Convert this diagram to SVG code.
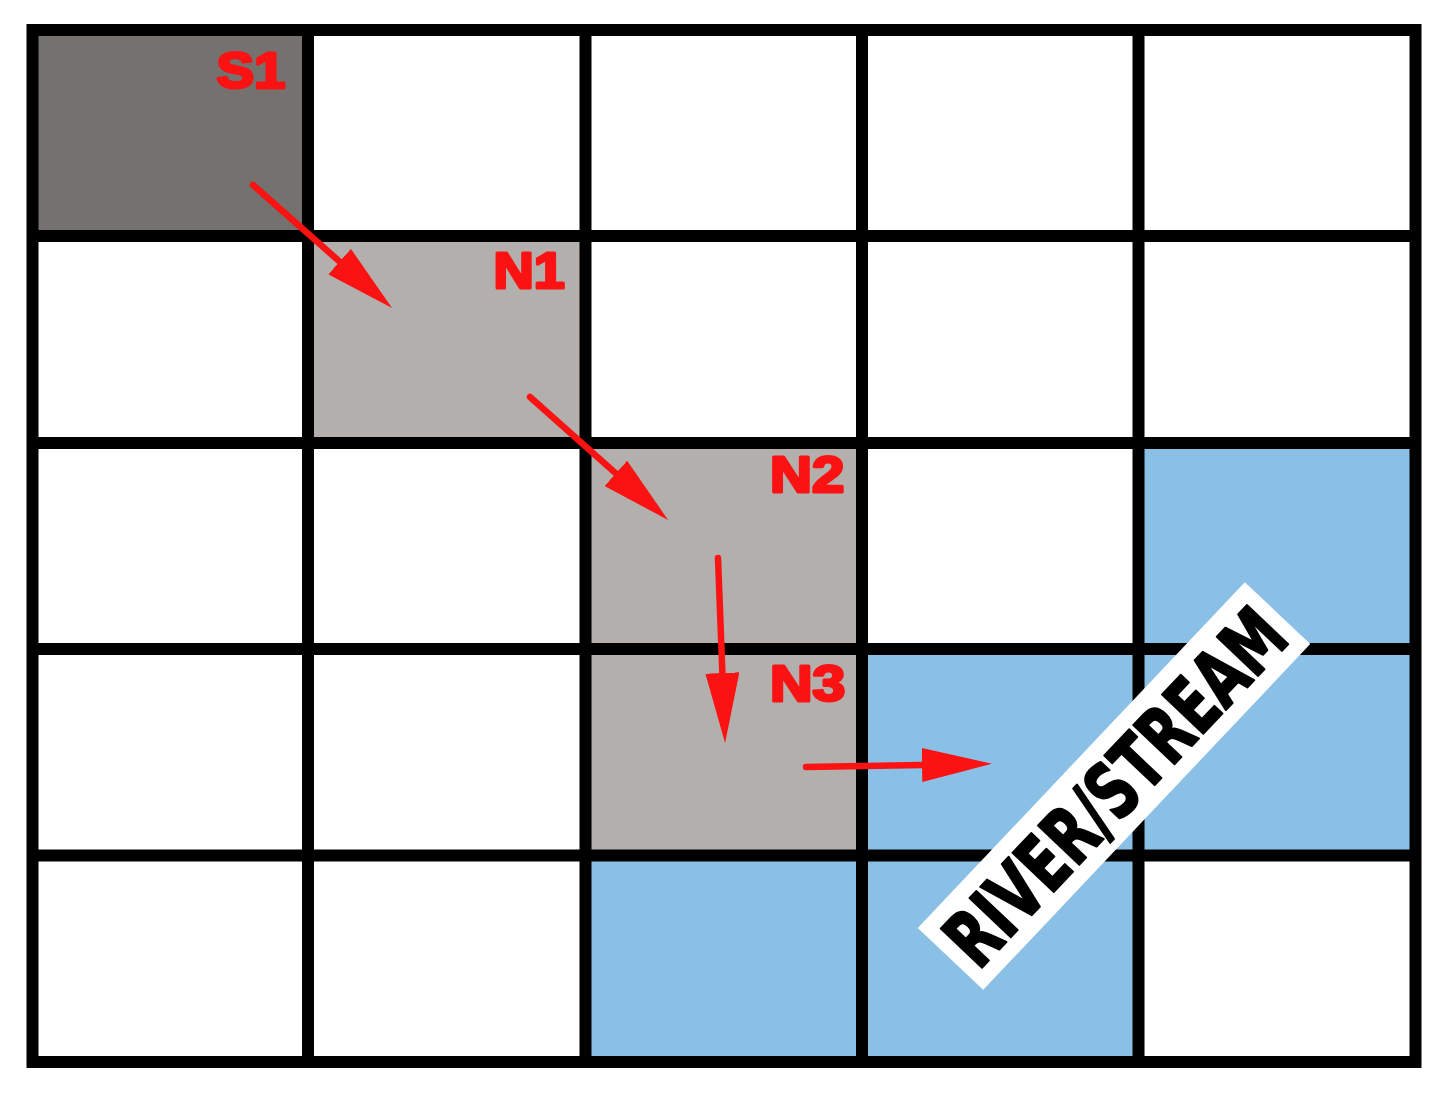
<svg xmlns="http://www.w3.org/2000/svg" width="1455" height="1101" viewBox="0 0 1455 1101">
<style>
.dark{fill:#75716f}
.light{fill:#b3afad}
.water{fill:#8bc0e6}
.grid{fill:none;stroke:#000;stroke-width:12}
.lbl{font-family:"Liberation Sans",Arial,sans-serif;font-weight:bold;font-size:50px;fill:#fb1212;stroke:#fb1212;stroke-width:3;stroke-linejoin:round}
.flow{fill:none;stroke:#fb1212;stroke-width:6.5;stroke-linecap:round}
.river{font-family:"DejaVu Sans","Liberation Sans",Arial,sans-serif;font-weight:bold;font-stretch:condensed;font-size:78px;fill:#000;stroke:#000;stroke-width:2;stroke-linejoin:round}
</style>
<defs>
<marker id="head" viewBox="0 0 70 34" refX="0" refY="17" markerWidth="70" markerHeight="34" markerUnits="userSpaceOnUse" orient="auto">
<path d="M0,0 L70,17 L0,34 Z" fill="#fb1212"/>
</marker>
</defs>
<rect width="1455" height="1101" fill="#fff"/>
<g id="cell-S1">
<rect class="dark" x="32.5" y="30" width="275.5" height="206"/>
</g>
<g id="cell-N1">
<rect class="light" x="308" y="236" width="277.5" height="207"/>
</g>
<g id="cell-N2">
<rect class="light" x="585.5" y="443" width="276.5" height="206"/>
</g>
<g id="cell-N3">
<rect class="light" x="585.5" y="649" width="276.5" height="206.5"/>
</g>
<g id="river-cells">
<rect class="water" x="1138.5" y="443" width="277" height="206"/>
<rect class="water" x="862" y="649" width="276.5" height="206.5"/>
<rect class="water" x="1138.5" y="649" width="277" height="206.5"/>
<rect class="water" x="585.5" y="855.5" width="276.5" height="206.5"/>
<rect class="water" x="862" y="855.5" width="276.5" height="206.5"/>
</g>
<g id="grid">
<path class="grid" d="M308,30 V1062 M585.5,30 V1062 M862,30 V1062 M1138.5,30 V1062 M32.5,236 H1415.5 M32.5,443 H1415.5 M32.5,649 H1415.5 M32.5,855.5 H1415.5"/>
<rect class="grid" x="32.5" y="30" width="1383" height="1032"/>
</g>
<g id="labels">
<text class="lbl" x="216.5" y="87.5" textLength="69" lengthAdjust="spacingAndGlyphs">S1</text>
<text class="lbl" x="493.5" y="288" textLength="71.3" lengthAdjust="spacingAndGlyphs">N1</text>
<text class="lbl" x="770" y="492" textLength="74.2" lengthAdjust="spacingAndGlyphs">N2</text>
<text class="lbl" x="770" y="701" textLength="75.3" lengthAdjust="spacingAndGlyphs">N3</text>
</g>
<g id="connectors">
<path class="flow" d="M253,185 L339.6,261.6" marker-end="url(#head)"/>
<path class="flow" d="M530,397 L615.8,473.4" marker-end="url(#head)"/>
<path class="flow" d="M718,558 L722.4,673" marker-end="url(#head)"/>
<path class="flow" d="M806,767 L922,764.9" marker-end="url(#head)"/>
</g>
<g id="river-label" transform="translate(1114,786) rotate(-46.6)">
<rect x="-238" y="-45" width="476" height="90" fill="#fff"/>
<text class="river" x="0" y="29" text-anchor="middle" textLength="456" lengthAdjust="spacingAndGlyphs">RIVER/STREAM</text>
</g>
</svg>
